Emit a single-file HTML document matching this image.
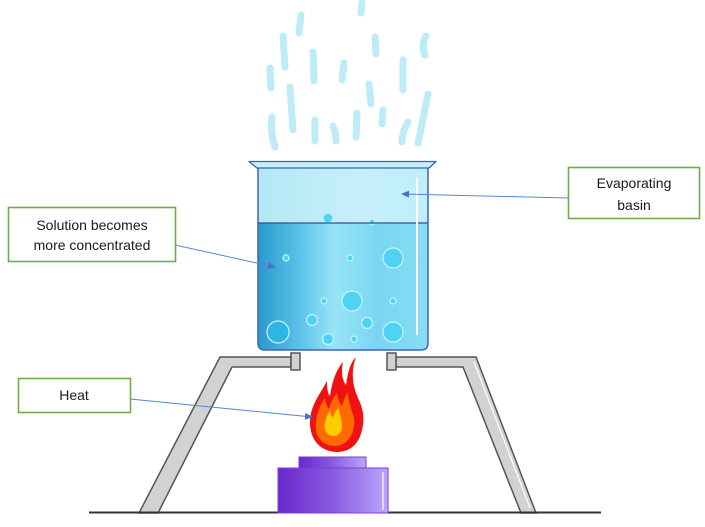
<!DOCTYPE html>
<html><head><meta charset="utf-8"><style>
html,body{margin:0;padding:0;background:#fff;}
svg{display:block;}
text{font-family:"Liberation Sans",sans-serif;font-size:14px;fill:#1a1a1a;}
</style></head><body>
<svg width="705" height="527" viewBox="0 0 705 527" xmlns="http://www.w3.org/2000/svg">
<defs>
<linearGradient id="liq" x1="0" x2="1" y1="0" y2="0">
<stop offset="0" stop-color="#2a98cc"/>
<stop offset="0.25" stop-color="#5cc3e8"/>
<stop offset="0.45" stop-color="#98e4f7"/>
<stop offset="0.7" stop-color="#7ad6f2"/>
<stop offset="1" stop-color="#86dcf4"/>
</linearGradient>
<linearGradient id="air" x1="0" x2="1">
<stop offset="0" stop-color="#b5e7f5"/>
<stop offset="0.6" stop-color="#c6f0fb"/>
<stop offset="1" stop-color="#bfeefb"/>
</linearGradient>
<linearGradient id="burn" x1="0" x2="1">
<stop offset="0" stop-color="#6a28cc"/>
<stop offset="0.5" stop-color="#8a5ae0"/>
<stop offset="1" stop-color="#bba6fb"/>
</linearGradient>
<marker id="ah" markerWidth="8" markerHeight="8" refX="7" refY="4" orient="auto" markerUnits="userSpaceOnUse">
<path d="M0,0.5 L8,4 L0,7.5 Z" fill="#4a6fc4"/>
</marker>
</defs>

<!-- steam -->
<g stroke="#b6e9f7" stroke-width="7" stroke-linecap="round" fill="none" opacity="0.9">
<path d="M362,3 L361,13"/>
<path d="M301,15 L299,33"/>
<path d="M283,36 L285,67"/>
<path d="M313,52 L314,81"/>
<path d="M344,63 L342,80"/>
<path d="M375,37 L376,54"/>
<path d="M426,36 Q421,45 425,55"/>
<path d="M270,68 L271,88"/>
<path d="M290,87 L293,130"/>
<path d="M369,84 L371,104"/>
<path d="M403,60 L403,90"/>
<path d="M383,110 L382,124"/>
<path d="M428,94 Q423,120 418,143"/>
<path d="M272,117 Q270,132 275,147"/>
<path d="M315,120 L315,141"/>
<path d="M333,126 Q336,133 336,141"/>
<path d="M357,113 L356,137"/>
<path d="M408,122 Q402,132 402,142"/>
</g>

<!-- stand -->
<g fill="#d2d2d2" stroke="#555" stroke-width="1.5" stroke-linejoin="miter">
<path d="M139,513 L220,357 L291,357 L291,367 L232,367 L158,513 Z"/>
<path d="M536,513 L476,357 L396,357 L396,367 L463,367 L521,513 Z"/>
<rect x="291" y="353" width="9" height="17"/>
<rect x="387" y="353" width="9" height="17"/>
</g>
<path d="M474,362 L530,508" stroke="#fff" stroke-width="1.2"/>

<!-- ground -->
<line x1="89" y1="512.5" x2="601" y2="512.5" stroke="#333" stroke-width="2"/>

<!-- burner -->
<rect x="299" y="457" width="67" height="11" fill="url(#burn)" stroke="#7a3fd6" stroke-width="1"/>
<rect x="278" y="468" width="110" height="45" fill="url(#burn)" stroke="#7a3fd6" stroke-width="1"/>
<line x1="383" y1="472" x2="383" y2="510" stroke="#fff" stroke-width="1.2"/>

<!-- flame -->
<path d="M337,452 C321,452 309,440 310,420 C311,405 320,394 327,381 C327,390 328,394 330,396 C332,382 336,370 343,362 C341,372 342,380 346,385 C348,372 350,363 356,357 C351,370 352,385 358,398 C363,408 365,418 362,430 C359,444 350,452 337,452 Z" fill="#f01212"/>
<path d="M335,446 C322,446 314,436 316,422 C317,412 321,404 325,398 C326,404 327,407 329,409 C331,402 333,398 337,393 C338,400 340,404 342,406 C344,400 345,396 348,393 C348,402 352,410 354,418 C356,432 348,446 335,446 Z" fill="#ff6a00"/>
<path d="M334,436 C327,436 323,430 325,422 C326,417 328,414 330,411 C331,415 332,417 333,418 C334,413 336,410 339,408 C339,414 342,419 342,424 C343,431 339,436 334,436 Z" fill="#ffcc00"/>

<!-- beaker -->
<path d="M258,168 L428,168 L428,223 L258,223 Z" fill="url(#air)"/>
<path d="M258,223 L428,223 L428,343 Q428,350 421,350 L265,350 Q258,350 258,343 Z" fill="url(#liq)"/>
<g fill="#4fd3f2" stroke="#c8f3fd" stroke-width="1.2">
<circle cx="328" cy="218" r="5"/>
<circle cx="372" cy="222" r="2.8"/>
<circle cx="286" cy="258" r="3"/>
<circle cx="350" cy="258" r="3"/>
<circle cx="393" cy="258" r="10"/>
<circle cx="324" cy="301" r="3"/>
<circle cx="352" cy="301" r="10"/>
<circle cx="393" cy="301" r="3"/>
<circle cx="312" cy="320" r="5.5"/>
<circle cx="367" cy="323" r="5.5"/>
<circle cx="278" cy="332" r="11" fill="#2db6e2"/>
<circle cx="393" cy="332" r="10"/>
<circle cx="328" cy="339" r="5.5"/>
<circle cx="354" cy="339" r="3"/>
</g>
<line x1="258" y1="223" x2="428" y2="223" stroke="#2f4f9a" stroke-width="1.3"/>
<path d="M258,168 L258,343 Q258,350 265,350 L421,350 Q428,350 428,343 L428,168" fill="none" stroke="#3d63b8" stroke-width="1.5"/>
<path d="M249,161.5 L436,161.5 L429,168 L257,168 Z" fill="#c4eefa" stroke="#3d63b8" stroke-width="1.3" stroke-linejoin="round"/>
<line x1="417" y1="178" x2="417" y2="335" stroke="#fff" stroke-width="2"/>

<!-- arrows -->
<g stroke="#5a86cf" stroke-width="1" fill="none">
<line x1="568" y1="198" x2="402" y2="194" marker-end="url(#ah)"/>
<line x1="175" y1="245" x2="275" y2="267" marker-end="url(#ah)"/>
<line x1="130" y1="399" x2="312" y2="417" marker-end="url(#ah)"/>
</g>

<!-- labels -->
<g fill="#fff" stroke="#70ad47" stroke-width="1.6">
<rect x="8.5" y="207.5" width="167" height="54"/>
<rect x="568.5" y="167.5" width="131" height="51"/>
<rect x="18.5" y="378.5" width="112" height="34"/>
</g>
<text x="92" y="230" text-anchor="middle">Solution becomes</text>
<text x="92" y="250" text-anchor="middle">more concentrated</text>
<text x="634" y="188" text-anchor="middle">Evaporating</text>
<text x="634" y="210" text-anchor="middle">basin</text>
<text x="74" y="400" text-anchor="middle">Heat</text>
</svg>
</body></html>
